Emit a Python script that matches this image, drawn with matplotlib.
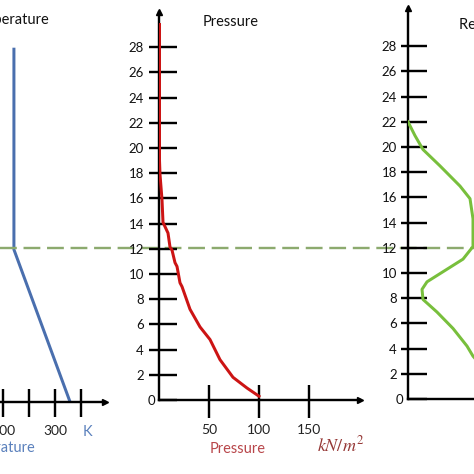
import matplotlib
matplotlib.use('Agg')
import matplotlib.pyplot as plt

plt.rcParams['font.family'] = ['Lato', 'DejaVu Sans']
plt.rcParams['mathtext.fontset'] = 'stix'

# ---------------- data ----------------
altitude_ticks = [0, 2, 4, 6, 8, 10, 12, 14, 16, 18, 20, 22, 24, 26, 28]
altitude_labels = [str(v) for v in altitude_ticks]

# temperature profile (K) vs altitude
temp_alt = [28.0, 12.1, 0.0]
temp_K = [221, 221, 329]
temp_ticks = [200, 250, 300, 350]
temp_tick_labels = ['200', '', '300', '']

# pressure profile (kN/m^2) vs altitude
pres_alt = [29.8, 26, 22, 19, 17.9, 15.9, 14.1, 13.25, 12.14, 11.9, 10.9, 10.6,
            9.3, 9.0, 7.2, 5.8, 4.8, 3.2, 1.8, 0.95, 0.3]
pres_kN = [0.5, 0.5, 0.5, 0.5, 1, 3, 4, 9, 11, 13, 16, 18,
           21, 23, 31, 41, 51, 61, 74, 88, 100]
pres_ticks = [50, 100, 150]
pres_tick_labels = ['50', '100', '150']

# third profile (arbitrary units) vs altitude
rh_alt = [22.0, 20.9, 19.8, 18.5, 16.9, 15.9, 14.3, 13.3, 12.1, 11.1, 10.1,
          9.3, 8.7, 7.9, 6.9, 5.6, 4.2, 3.4, 2.5]
rh_val = [0, 7, 15, 32, 52, 62, 65, 65, 65, 55, 35,
          19, 14, 15, 29, 45, 59, 65, 75]

tropopause_alt = 12.06

# ---------------- figure ----------------
W = H = 474
fig = plt.figure(figsize=(4.74, 4.74), dpi=100)
PX = 12.6   # pixels per km


def add_px_axes(left, right, bottom, top):
    return fig.add_axes([left / W, (H - bottom) / H, (right - left) / W, (bottom - top) / H])


def pt(px):
    return px * 72 / 100


LW_AX = pt(2.4)
TW = pt(2.4)


def style(ax, show_left=True):
    for s in ['top', 'right']:
        ax.spines[s].set_visible(False)
    ax.spines['left'].set_visible(show_left)
    ax.spines['left'].set_linewidth(LW_AX)
    ax.spines['bottom'].set_linewidth(LW_AX)
    ax.patch.set_visible(False)


# ---- temperature axes (y axis off-screen to the left) ----
t_left, t_right, t_bottom, t_top = -40, 105, 402, 12
axT = add_px_axes(t_left, t_right, t_bottom, t_top)
style(axT, show_left=False)
k_per_px = 1 / 0.52
axT.set_xlim(200 + (t_left - 3) * k_per_px, 200 + (t_right - 3) * k_per_px)
axT.set_ylim(0, (t_bottom - t_top) / PX)
axT.plot(temp_K, temp_alt, color='#4a6fae', lw=pt(3))
axT.set_yticks([])
axT.set_xticks(temp_ticks)
axT.set_xticklabels(temp_tick_labels)
axT.set_xticks(temp_ticks, minor=True)
axT.xaxis.remove_overlapping_locs = False
axT.tick_params(axis='x', which='major', direction='out', length=pt(15), width=TW,
                pad=6, labelsize=10, labelcolor='#222222')
axT.tick_params(axis='x', which='minor', direction='in', length=pt(13), width=TW)
axT.plot(1, 0, '>', transform=axT.transAxes, clip_on=False, color='k', ms=5)

# ---- pressure axes ----
p_left, p_right, p_bottom, p_top = 159, 360, 400, 12
axP = add_px_axes(p_left, p_right, p_bottom, p_top)
style(axP)
axP.set_xlim(0, p_right - p_left)
axP.set_ylim(0, (p_bottom - p_top) / PX)
axP.plot(pres_kN, pres_alt, color='#cc1414', lw=pt(3), zorder=3)
axP.set_yticks(altitude_ticks)
axP.set_yticklabels(altitude_labels)
axP.set_yticks(altitude_ticks[1:], minor=True)
axP.yaxis.remove_overlapping_locs = False
axP.tick_params(axis='y', which='major', direction='in', length=pt(18), width=TW,
                pad=pt(15), labelsize=9.5, labelcolor='#111111')
axP.tick_params(axis='y', which='minor', direction='out', length=pt(10), width=TW)
axP.set_xticks(pres_ticks)
axP.set_xticklabels(pres_tick_labels)
axP.set_xticks(pres_ticks, minor=True)
axP.xaxis.remove_overlapping_locs = False
axP.tick_params(axis='x', which='major', direction='out', length=pt(18), width=TW,
                pad=4, labelsize=10, labelcolor='#222222')
axP.tick_params(axis='x', which='minor', direction='in', length=pt(15), width=TW)
axP.yaxis.get_major_ticks()[0].set_pad(pt(4))
axP.plot(0, 1, '^', transform=axP.transAxes, clip_on=False, color='k', ms=5)
axP.plot(1, 0, '>', transform=axP.transAxes, clip_on=False, color='k', ms=5)

# tropopause dashed line across the whole figure
axP.axhline(tropopause_alt, xmin=-p_left / (p_right - p_left),
            xmax=(W - p_left) / (p_right - p_left), clip_on=False,
            color='#8caa6e', lw=pt(2.4), ls=(0, (7, 2.8)), zorder=1)

# ---- third (right) axes ----
r_left, r_right, r_bottom, r_top = 408, 520, 399, 8
axR = add_px_axes(r_left, r_right, r_bottom, r_top)
style(axR)
axR.set_xlim(0, r_right - r_left)
axR.set_ylim(0, (r_bottom - r_top) / PX)
axR.plot(rh_val, rh_alt, color='#78bf3c', lw=pt(3), zorder=3)
axR.set_yticks(altitude_ticks)
axR.set_yticklabels(altitude_labels)
axR.set_yticks(altitude_ticks[1:], minor=True)
axR.yaxis.remove_overlapping_locs = False
axR.tick_params(axis='y', which='major', direction='in', length=pt(19), width=TW,
                pad=pt(11), labelsize=9.5, labelcolor='#111111')
axR.tick_params(axis='y', which='minor', direction='out', length=pt(7), width=TW)
axR.set_xticks([])
axR.yaxis.get_major_ticks()[0].set_pad(pt(5))
axR.plot(0, 1, '^', transform=axR.transAxes, clip_on=False, color='k', ms=5)

# ---------------- texts ----------------
def ftext(x, y, s, **kw):
    fig.text(x / W, 1 - y / H, s, **kw)


ftext(50, 20, 'Temperature', ha='right', va='center', fontsize=10.5, color='#111111')
ftext(231, 22, 'Pressure', ha='center', va='center', fontsize=10.5, color='#111111')
ftext(459, 25, 'Relative humidity', ha='left', va='center', fontsize=10.5, color='#111111')

ftext(36, 448, 'Temperature', ha='right', va='center', fontsize=10.5, color='#5a80bc')
ftext(87, 432, 'K', ha='center', va='center', fontsize=10.5, color='#5a80bc')
ftext(238, 449, 'Pressure', ha='center', va='center', fontsize=10.5, color='#b8464a')
ftext(317, 444, r'$kN/m^2$', ha='left', va='center', fontsize=13, color='#953735')

fig.savefig('out.png', dpi=100)
